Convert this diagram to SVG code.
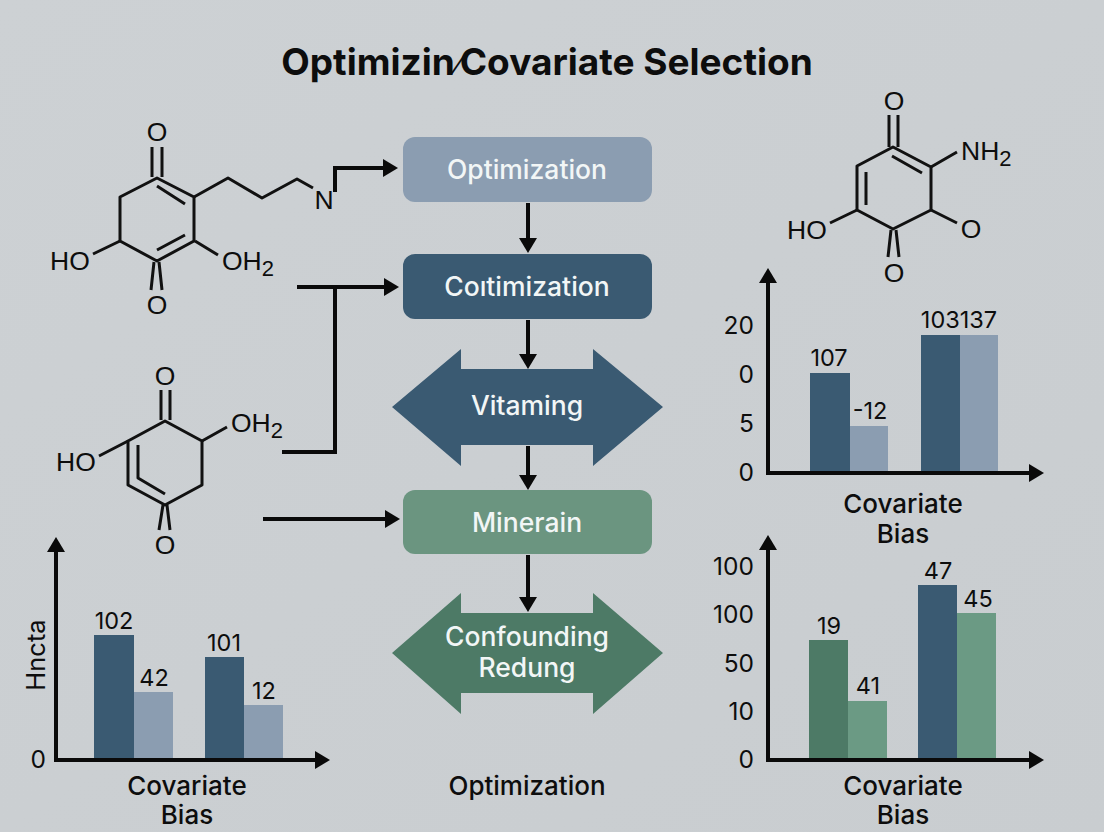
<svg xmlns="http://www.w3.org/2000/svg" width="1104" height="832" viewBox="0 0 1104 832">
<style>
text{font-family:Inter,"Liberation Sans",Arial,sans-serif;fill:#0d0d0d}
.title{font-size:37px;font-weight:700;text-anchor:middle}
.slash{font-size:26px;font-weight:400}
.nl{font-size:26.5px;font-weight:500;fill:#f2f6f6;text-anchor:middle}
.cap{font-size:26px;font-weight:500;text-anchor:middle}
.v{font-size:23.5px;text-anchor:middle}
.y{font-size:24.5px;text-anchor:end}
.chem{font-family:"Liberation Sans",Arial,sans-serif;font-size:26.5px}
.sub{font-family:"Liberation Sans",Arial,sans-serif;font-size:22px}
.bond{fill:none;stroke:#111;stroke-width:3;stroke-linejoin:round}
.conn{fill:none;stroke:#0a0a0a;stroke-width:4}
.axis{fill:none;stroke:#0a0a0a;stroke-width:4}
.dk{fill:#3a5a72}.lt{fill:#8b9db1}.gd{fill:#4d7a66}.gl{fill:#6b9a84}
</style>
<defs>
<marker id="ah" markerUnits="userSpaceOnUse" markerWidth="16" markerHeight="18" refX="1" refY="9" orient="auto"><path d="M0,0L15,9L0,18Z" fill="#0a0a0a"/></marker>
<linearGradient id="bg" x1="0" y1="0" x2="1" y2="1"><stop offset="0" stop-color="#cdd1d4"/><stop offset="1" stop-color="#c9cdd0"/></linearGradient>
</defs>
<rect width="1104" height="832" fill="url(#bg)"/>
<text id="title" class="title" x="547" y="75">Optimizin<tspan class="slash">⁄</tspan>Covariate Selection</text>

<g id="molecule-1">
<path class="bond" d="M157,178L194,197V241L157,261L120,241V197Z"/>
<path class="bond" d="M157,186L185,204M157,250L185,235M152,147V177M162,147V177M154,262L151,290M159,262L162,290M93,254L120,241M195,241L218,255M194,197L228,178L262,198L297,179L313,188"/>
<text class="chem" x="157" y="141" text-anchor="middle">O</text>
<text class="chem" x="157" y="314" text-anchor="middle">O</text>
<text class="chem" x="50" y="270">HO</text>
<text class="chem" x="222" y="270">OH<tspan class="sub" dy="6">2</tspan></text>
<text class="chem" x="324" y="209" text-anchor="middle">N</text>
</g>
<g id="molecule-2">
<path class="bond" d="M165,421L202,441V485L165,505L128,485V441Z"/>
<path class="bond" d="M138,445V478L165,494M161,390V420M170,390V420M163,505L159,530M167,505L170,530M99,456L128,441M202,441L227,427"/>
<text class="chem" x="165" y="385" text-anchor="middle">O</text>
<text class="chem" x="165" y="554" text-anchor="middle">O</text>
<text class="chem" x="56" y="471">HO</text>
<text class="chem" x="231" y="432">OH<tspan class="sub" dy="6">2</tspan></text>
</g>
<g id="molecule-3">
<path class="bond" d="M893,147L931,167V210L893,229L857,210V166Z"/>
<path class="bond" d="M892,156L922,173M866,172V205M889,115V147M898,115V147M891,230L888,257M896,230L899,257M830,223L857,210M931,167L957,152M931,210L957,223"/>
<text class="chem" x="894" y="110" text-anchor="middle">O</text>
<text class="chem" x="894" y="282" text-anchor="middle">O</text>
<text class="chem" x="971" y="238" text-anchor="middle">O</text>
<text class="chem" x="787" y="239">HO</text>
<text class="chem" x="961" y="160">NH<tspan class="sub" dy="6">2</tspan></text>
</g>

<g id="connectors">
<path class="conn" marker-end="url(#ah)" d="M335,192V168H384"/>
<path class="conn" marker-end="url(#ah)" d="M297,287H385"/>
<path class="conn" d="M282,452H335V287"/>
<path class="conn" marker-end="url(#ah)" d="M263,519H386"/>
<path class="conn" marker-end="url(#ah)" d="M528,203V239"/>
<path class="conn" marker-end="url(#ah)" d="M528,320V355"/>
<path class="conn" marker-end="url(#ah)" d="M528,446V476"/>
<path class="conn" marker-end="url(#ah)" d="M528,555V598"/>
</g>

<g id="node-optimization"><rect x="403" y="137" width="249" height="65" rx="12" class="lt"/><text class="nl" x="527" y="179">Optimization</text></g>
<g id="node-cotimization"><rect x="403" y="254" width="249" height="65" rx="12" class="dk"/><text class="nl" x="527" y="296">Coıtimization</text></g>
<g id="node-vitaming"><path class="dk" d="M392,407L461,349V369H593V349L663,407L593,466V445H461V466Z"/><text class="nl" x="527" y="415">Vitaming</text></g>
<g id="node-minerain"><rect x="403" y="490" width="249" height="64" rx="12" fill="#6b9580"/><text class="nl" x="527" y="532">Minerain</text></g>
<g id="node-confounding"><path class="gd" d="M392,653L461,593V613H593V593L663,653L593,714V693H461V714Z"/><text class="nl" x="527" y="646">Confounding</text><text class="nl" x="527" y="677">Redung</text></g>
<text id="bottom-label" class="cap" x="527" y="795">Optimization</text>

<g id="chart-top-right">
<rect class="dk" x="810" y="373" width="40" height="98"/><rect class="lt" x="850" y="426" width="38" height="45"/>
<rect class="dk" x="921" y="335" width="39" height="136"/><rect class="lt" x="960" y="335" width="38" height="136"/>
<path class="axis" marker-end="url(#ah)" d="M768,473V282"/><path class="axis" marker-end="url(#ah)" d="M766,473H1030"/>
<text class="v" x="829" y="366">107</text><text class="v" x="870" y="419">-12</text><text class="v" x="959" y="328">103137</text>
<text class="y" x="754" y="334">20</text><text class="y" x="754" y="383">0</text><text class="y" x="754" y="432">5</text><text class="y" x="754" y="481">0</text>
<text class="cap" x="903" y="513">Covariate</text><text class="cap" x="903" y="543">Bias</text>
</g>
<g id="chart-bottom-right">
<rect class="gd" x="809" y="640" width="39" height="120"/><rect class="gl" x="848" y="701" width="39" height="59"/>
<rect class="dk" x="918" y="585" width="39" height="175"/><rect class="gl" x="957" y="613" width="39" height="147"/>
<path class="axis" marker-end="url(#ah)" d="M768,760V549"/><path class="axis" marker-end="url(#ah)" d="M766,760H1030"/>
<text class="v" x="829" y="634">19</text><text class="v" x="868" y="694">41</text><text class="v" x="938" y="579">47</text><text class="v" x="978" y="607">45</text>
<text class="y" x="754" y="575">100</text><text class="y" x="754" y="623">100</text><text class="y" x="754" y="672">50</text><text class="y" x="754" y="720">10</text><text class="y" x="754" y="768">0</text>
<text class="cap" x="903" y="795">Covariate</text><text class="cap" x="903" y="824">Bias</text>
</g>
<g id="chart-left">
<rect class="dk" x="94" y="635" width="40" height="125"/><rect class="lt" x="134" y="692" width="39" height="68"/>
<rect class="dk" x="205" y="657" width="39" height="103"/><rect class="lt" x="244" y="705" width="39" height="55"/>
<path class="axis" marker-end="url(#ah)" d="M56,760V551"/><path class="axis" marker-end="url(#ah)" d="M54,760H316"/>
<text class="v" x="114" y="629">102</text><text class="v" x="154" y="686">42</text><text class="v" x="224" y="651">101</text><text class="v" x="264" y="699">12</text>
<text class="y" x="46" y="768">0</text>
<text class="y" style="text-anchor:middle;font-size:25.5px" transform="translate(45,655) rotate(-90)">Hncta</text>
<text class="cap" x="187" y="795">Covariate</text><text class="cap" x="187" y="824">Bias</text>
</g>
</svg>
